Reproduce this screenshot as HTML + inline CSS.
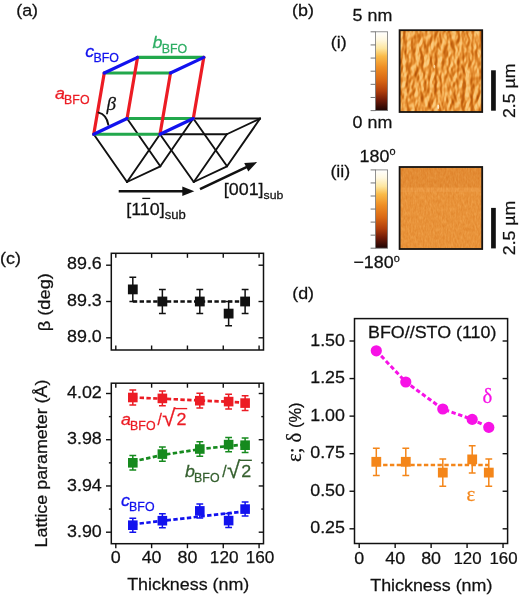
<!DOCTYPE html>
<html lang="en">
<head>
<meta charset="utf-8">
<title>Figure</title>
<style>
html,body{margin:0;padding:0;background:#fff;}
body{width:520px;height:595px;overflow:hidden;}
svg{display:block;}
text{font-family:"Liberation Sans",Arial,Helvetica,sans-serif;fill:#111;stroke-width:0.25px;}
.it{font-style:italic;}
.ser{font-family:"Liberation Serif","Times New Roman",serif;}
</style>
</head>
<body>

<svg width="520" height="595" viewBox="0 0 520 595" font-size="17.2">
<rect x="0" y="0" width="520" height="595" fill="#fff"/>
<g id="panel-a" stroke-linecap="round">
<line x1="93.75" y1="134.25" x2="127.00" y2="182.00" stroke="#111" stroke-width="1.9" />
<line x1="127.00" y1="182.00" x2="160.00" y2="134.25" stroke="#111" stroke-width="1.9" />
<line x1="160.00" y1="134.25" x2="193.75" y2="182.00" stroke="#111" stroke-width="1.9" />
<line x1="193.75" y1="182.00" x2="226.80" y2="134.25" stroke="#111" stroke-width="1.9" />
<line x1="127.05" y1="118.55" x2="160.30" y2="166.30" stroke="#111" stroke-width="1.9" />
<line x1="160.30" y1="166.30" x2="193.30" y2="118.55" stroke="#111" stroke-width="1.9" />
<line x1="193.30" y1="118.55" x2="227.05" y2="166.30" stroke="#111" stroke-width="1.9" />
<line x1="227.05" y1="166.30" x2="260.10" y2="118.55" stroke="#111" stroke-width="1.9" />
<line x1="127.00" y1="182.00" x2="160.30" y2="166.30" stroke="#111" stroke-width="1.9" />
<line x1="193.75" y1="182.00" x2="227.05" y2="166.30" stroke="#111" stroke-width="1.9" />
<line x1="160.00" y1="134.25" x2="226.80" y2="134.25" stroke="#111" stroke-width="1.9" />
<line x1="193.30" y1="118.55" x2="260.10" y2="118.55" stroke="#111" stroke-width="1.9" />
<line x1="226.80" y1="134.25" x2="260.10" y2="118.55" stroke="#111" stroke-width="1.9" />
<line x1="93.75" y1="134.25" x2="160.00" y2="134.25" stroke="#22a84c" stroke-width="3.1" />
<line x1="127.05" y1="118.55" x2="193.30" y2="118.55" stroke="#22a84c" stroke-width="3.1" />
<line x1="104.25" y1="73.05" x2="170.50" y2="73.05" stroke="#22a84c" stroke-width="3.1" />
<line x1="137.55" y1="57.35" x2="203.80" y2="57.35" stroke="#22a84c" stroke-width="3.1" />
<line x1="93.75" y1="134.25" x2="104.25" y2="73.05" stroke="#ec1c24" stroke-width="3.2" />
<line x1="160.00" y1="134.25" x2="170.50" y2="73.05" stroke="#ec1c24" stroke-width="3.2" />
<line x1="127.05" y1="118.55" x2="137.55" y2="57.35" stroke="#ec1c24" stroke-width="3.2" />
<line x1="193.30" y1="118.55" x2="203.80" y2="57.35" stroke="#ec1c24" stroke-width="3.2" />
<line x1="93.75" y1="134.25" x2="127.05" y2="118.55" stroke="#1212ee" stroke-width="3.2" />
<line x1="160.00" y1="134.25" x2="193.30" y2="118.55" stroke="#1212ee" stroke-width="3.2" />
<line x1="104.25" y1="73.05" x2="137.55" y2="57.35" stroke="#1212ee" stroke-width="3.2" />
<line x1="170.50" y1="73.05" x2="203.80" y2="57.35" stroke="#1212ee" stroke-width="3.2" />
<path d="M98.6,112.6 Q106.5,114.5 108.3,124.6" fill="none" stroke="#111" stroke-width="2"/>
</g>
<line x1="118.70" y1="191.20" x2="184.30" y2="191.20" stroke="#111" stroke-width="2.6"/>
<polygon points="194.30,191.20 182.30,195.90 182.30,186.50" fill="#111"/>
<line x1="200.00" y1="189.10" x2="248.06" y2="166.37" stroke="#111" stroke-width="2.6"/>
<polygon points="257.10,162.10 248.26,171.48 244.24,162.98" fill="#111"/>
<text transform="translate(16.20,16.40) scale(1.04,1)" style="fill:#111;stroke:#111">(a)</text>
<text transform="translate(106.40,109.70) scale(1.04,1)" font-size="18.4" class="ser it" style="fill:#111;stroke:#111">β</text>
<text transform="translate(85.30,57.00) scale(1.04,1)" style="fill:#1212ee;stroke:#1212ee"><tspan class="it">c</tspan><tspan font-size="11.9" dy="5.0" dx="-0.8">BFO</tspan></text>
<text transform="translate(152.60,47.80) scale(1.04,1)" style="fill:#2eae64;stroke:#2eae64"><tspan class="it">b</tspan><tspan font-size="11.9" dy="5.0" dx="-0.8">BFO</tspan></text>
<text transform="translate(55.00,99.40) scale(1.04,1)" style="fill:#ec1c24;stroke:#ec1c24"><tspan class="it">a</tspan><tspan font-size="11.9" dy="5.0" dx="-0.8">BFO</tspan></text>
<text transform="translate(126.20,214.60) scale(1.04,1)" style="fill:#111;stroke:#111">[110]<tspan font-size="12.6" dy="4.3">sub</tspan></text>
<line x1="142.3" y1="198.4" x2="150.2" y2="198.4" stroke="#111" stroke-width="1.3"/>
<text transform="translate(223.80,195.00) scale(1.04,1)" style="fill:#111;stroke:#111">[001]<tspan font-size="11.8" dy="4.4">sub</tspan></text>
<text transform="translate(292.00,16.30) scale(1.04,1)" style="fill:#111;stroke:#111">(b)</text>
<defs>
<linearGradient id="cb" x1="0" y1="0" x2="0" y2="1">
<stop offset="0" stop-color="#ffffff"/>
<stop offset="0.10" stop-color="#fff8e0"/>
<stop offset="0.21" stop-color="#fde6a0"/>
<stop offset="0.31" stop-color="#fabb4a"/>
<stop offset="0.45" stop-color="#ef8e24"/>
<stop offset="0.61" stop-color="#d96714"/>
<stop offset="0.75" stop-color="#b03e0c"/>
<stop offset="0.87" stop-color="#6e1a08"/>
<stop offset="1" stop-color="#1c0404"/>
</linearGradient>
<filter id="tex1" x="0" y="0" width="100%" height="100%" color-interpolation-filters="sRGB">
<feTurbulence type="fractalNoise" baseFrequency="0.22 0.10" numOctaves="2" seed="11" result="n"/>
<feColorMatrix in="n" type="matrix" values="0 0 0 0 0  0 0 0 0 0  0 0 0 0 0  1 0 0 0 0" result="h"/>
<feDiffuseLighting in="h" surfaceScale="2.5" diffuseConstant="1" lighting-color="#ffffff" result="lit">
<feDistantLight azimuth="200" elevation="52"/>
</feDiffuseLighting>
<feComponentTransfer in="lit">
<feFuncR type="table" tableValues="0.64 0.68 0.72 0.76 0.79 0.82 0.855 0.89 0.925 0.96 0.985"/>
<feFuncG type="table" tableValues="0.28 0.31 0.34 0.38 0.415 0.45 0.50 0.55 0.605 0.70 0.80"/>
<feFuncB type="table" tableValues="0.03 0.04 0.05 0.06 0.08 0.10 0.14 0.19 0.245 0.35 0.50"/>
</feComponentTransfer>
</filter>
<filter id="tex2" x="0" y="0" width="100%" height="100%" color-interpolation-filters="sRGB">
<feTurbulence type="fractalNoise" baseFrequency="0.6 0.25" numOctaves="2" seed="3" result="n"/>
<feColorMatrix in="n" type="matrix" values="1 0 0 0 0  1 0 0 0 0  1 0 0 0 0  0 0 0 0 1" result="g"/>
<feComponentTransfer in="g">
<feFuncR type="table" tableValues="0.875 0.913 0.95"/>
<feFuncG type="table" tableValues="0.51 0.578 0.65"/>
<feFuncB type="table" tableValues="0.16 0.228 0.31"/>
</feComponentTransfer>
</filter>
</defs>
<text transform="translate(352.60,21.30) scale(1.04,1)" style="fill:#111;stroke:#111">5 nm</text>
<text transform="translate(352.60,127.50) scale(1.04,1)" style="fill:#111;stroke:#111">0 nm</text>
<text transform="translate(330.80,48.20) scale(1.04,1)" style="fill:#111;stroke:#111">(i)</text>
<rect x="375.5" y="31.8" width="12.10" height="78.80" fill="url(#cb)" stroke="#777" stroke-width="0.8"/>
<line x1="370.60" y1="31.80" x2="375.50" y2="31.80" stroke="#666" stroke-width="0.9"/>
<line x1="370.60" y1="44.93" x2="375.50" y2="44.93" stroke="#666" stroke-width="0.9"/>
<line x1="370.60" y1="58.07" x2="375.50" y2="58.07" stroke="#666" stroke-width="0.9"/>
<line x1="370.60" y1="71.20" x2="375.50" y2="71.20" stroke="#666" stroke-width="0.9"/>
<line x1="370.60" y1="84.33" x2="375.50" y2="84.33" stroke="#666" stroke-width="0.9"/>
<line x1="370.60" y1="97.47" x2="375.50" y2="97.47" stroke="#666" stroke-width="0.9"/>
<line x1="370.60" y1="110.60" x2="375.50" y2="110.60" stroke="#666" stroke-width="0.9"/>
<rect x="399.6" y="30.2" width="82.6" height="81.8" fill="#e58a2c" filter="url(#tex1)"/>
<ellipse cx="434.4" cy="66.6" rx="0.9" ry="1.8" fill="#ffe9b8" opacity="0.8"/>
<ellipse cx="438.2" cy="106.8" rx="1.0" ry="2.2" fill="#fff6da" opacity="0.9"/>
<rect x="399.6" y="30.2" width="82.6" height="81.8" fill="none" stroke="#161210" stroke-width="1.8"/>
<rect x="491.1" y="70.3" width="4.7" height="40.4" fill="#111"/>
<text transform="translate(515.00,118.00) rotate(-90) scale(1.03,1)" style="fill:#111;stroke:#111">2.5 µm</text>
<text transform="translate(359.60,161.80) scale(1.04,1)" style="fill:#111;stroke:#111">180<tspan font-size="10.5" dy="-6.6">o</tspan></text>
<text transform="translate(353.40,268.20) scale(1.04,1)" style="fill:#111;stroke:#111">−180<tspan font-size="10.5" dy="-6.6">o</tspan></text>
<text transform="translate(330.40,177.30) scale(1.04,1)" style="fill:#111;stroke:#111">(ii)</text>
<rect x="375.5" y="169.9" width="12.10" height="78.30" fill="url(#cb)" stroke="#777" stroke-width="0.8"/>
<line x1="370.60" y1="169.90" x2="375.50" y2="169.90" stroke="#666" stroke-width="0.9"/>
<line x1="370.60" y1="182.95" x2="375.50" y2="182.95" stroke="#666" stroke-width="0.9"/>
<line x1="370.60" y1="196.00" x2="375.50" y2="196.00" stroke="#666" stroke-width="0.9"/>
<line x1="370.60" y1="209.05" x2="375.50" y2="209.05" stroke="#666" stroke-width="0.9"/>
<line x1="370.60" y1="222.10" x2="375.50" y2="222.10" stroke="#666" stroke-width="0.9"/>
<line x1="370.60" y1="235.15" x2="375.50" y2="235.15" stroke="#666" stroke-width="0.9"/>
<line x1="370.60" y1="248.20" x2="375.50" y2="248.20" stroke="#666" stroke-width="0.9"/>
<rect x="399.6" y="167.0" width="82.6" height="82.0" fill="#e2852c" filter="url(#tex2)"/>
<rect x="399.6" y="187.5" width="82.6" height="4.5" fill="#f8b468" opacity="0.16"/>
<rect x="399.6" y="167.0" width="82.6" height="20.5" fill="#c0600c" opacity="0.13"/>
<rect x="399.6" y="167.0" width="82.6" height="82.0" fill="none" stroke="#161210" stroke-width="1.8"/>
<rect x="491.1" y="207.9" width="4.7" height="40.5" fill="#111"/>
<text transform="translate(515.00,255.20) rotate(-90) scale(1.03,1)" style="fill:#111;stroke:#111">2.5 µm</text>
<text transform="translate(0.00,263.90) scale(1.04,1)" style="fill:#111;stroke:#111">(c)</text>
<rect x="111.3" y="253.3" width="152.20" height="96.70" fill="none" stroke="#111" stroke-width="1.5"/>
<line x1="115.80" y1="253.30" x2="115.80" y2="257.80" stroke="#111" stroke-width="1.4"/>
<line x1="115.80" y1="350.00" x2="115.80" y2="345.50" stroke="#111" stroke-width="1.4"/>
<line x1="151.62" y1="253.30" x2="151.62" y2="257.80" stroke="#111" stroke-width="1.4"/>
<line x1="151.62" y1="350.00" x2="151.62" y2="345.50" stroke="#111" stroke-width="1.4"/>
<line x1="187.44" y1="253.30" x2="187.44" y2="257.80" stroke="#111" stroke-width="1.4"/>
<line x1="187.44" y1="350.00" x2="187.44" y2="345.50" stroke="#111" stroke-width="1.4"/>
<line x1="223.26" y1="253.30" x2="223.26" y2="257.80" stroke="#111" stroke-width="1.4"/>
<line x1="223.26" y1="350.00" x2="223.26" y2="345.50" stroke="#111" stroke-width="1.4"/>
<line x1="259.08" y1="253.30" x2="259.08" y2="257.80" stroke="#111" stroke-width="1.4"/>
<line x1="259.08" y1="350.00" x2="259.08" y2="345.50" stroke="#111" stroke-width="1.4"/>
<line x1="106.10" y1="265.20" x2="111.30" y2="265.20" stroke="#111" stroke-width="1.4"/>
<line x1="258.50" y1="265.20" x2="263.50" y2="265.20" stroke="#111" stroke-width="1.4"/>
<text transform="translate(101.80,269.30) scale(1.04,1)" text-anchor="end" style="fill:#111;stroke:#111">89.6</text>
<line x1="106.10" y1="301.50" x2="111.30" y2="301.50" stroke="#111" stroke-width="1.4"/>
<line x1="258.50" y1="301.50" x2="263.50" y2="301.50" stroke="#111" stroke-width="1.4"/>
<text transform="translate(101.80,305.60) scale(1.04,1)" text-anchor="end" style="fill:#111;stroke:#111">89.3</text>
<line x1="106.10" y1="337.80" x2="111.30" y2="337.80" stroke="#111" stroke-width="1.4"/>
<line x1="258.50" y1="337.80" x2="263.50" y2="337.80" stroke="#111" stroke-width="1.4"/>
<text transform="translate(101.80,341.90) scale(1.04,1)" text-anchor="end" style="fill:#111;stroke:#111">89.0</text>
<path d="M132.81,301.50 L245.11,301.50" fill="none" stroke="#111" stroke-width="2.7" stroke-dasharray="4.4 2.4"/>
<path d="M132.81,277.30V301.50M129.41,277.30h6.8M129.41,301.50h6.8" stroke="#111" stroke-width="1.5" fill="none"/>
<rect x="127.91" y="284.50" width="9.8" height="9.8" fill="#111"/>
<path d="M162.37,289.40V313.60M158.97,289.40h6.8M158.97,313.60h6.8" stroke="#111" stroke-width="1.5" fill="none"/>
<rect x="157.47" y="296.60" width="9.8" height="9.8" fill="#111"/>
<path d="M199.80,289.40V313.60M196.40,289.40h6.8M196.40,313.60h6.8" stroke="#111" stroke-width="1.5" fill="none"/>
<rect x="194.90" y="296.60" width="9.8" height="9.8" fill="#111"/>
<path d="M228.63,301.50V325.70M225.23,301.50h6.8M225.23,325.70h6.8" stroke="#111" stroke-width="1.5" fill="none"/>
<rect x="223.73" y="308.70" width="9.8" height="9.8" fill="#111"/>
<path d="M245.11,289.40V313.60M241.71,289.40h6.8M241.71,313.60h6.8" stroke="#111" stroke-width="1.5" fill="none"/>
<rect x="240.21" y="296.60" width="9.8" height="9.8" fill="#111"/>
<text transform="translate(49.70,302.20) rotate(-90) scale(1.06,1)" text-anchor="middle" style="fill:#111;stroke:#111">β (deg)</text>
<rect x="111.3" y="383.2" width="152.20" height="160.50" fill="none" stroke="#111" stroke-width="1.5"/>
<line x1="115.80" y1="383.20" x2="115.80" y2="387.70" stroke="#111" stroke-width="1.4"/>
<line x1="115.80" y1="543.70" x2="115.80" y2="548.20" stroke="#111" stroke-width="1.4"/>
<text transform="translate(115.80,562.60) scale(1.04,1)" text-anchor="middle" style="fill:#111;stroke:#111">0</text>
<line x1="151.62" y1="383.20" x2="151.62" y2="387.70" stroke="#111" stroke-width="1.4"/>
<line x1="151.62" y1="543.70" x2="151.62" y2="548.20" stroke="#111" stroke-width="1.4"/>
<text transform="translate(151.62,562.60) scale(1.04,1)" text-anchor="middle" style="fill:#111;stroke:#111">40</text>
<line x1="187.44" y1="383.20" x2="187.44" y2="387.70" stroke="#111" stroke-width="1.4"/>
<line x1="187.44" y1="543.70" x2="187.44" y2="548.20" stroke="#111" stroke-width="1.4"/>
<text transform="translate(187.44,562.60) scale(1.04,1)" text-anchor="middle" style="fill:#111;stroke:#111">80</text>
<line x1="223.26" y1="383.20" x2="223.26" y2="387.70" stroke="#111" stroke-width="1.4"/>
<line x1="223.26" y1="543.70" x2="223.26" y2="548.20" stroke="#111" stroke-width="1.4"/>
<text transform="translate(224.16,562.60) scale(1.0,1)" text-anchor="middle" style="fill:#111;stroke:#111">120</text>
<line x1="259.08" y1="383.20" x2="259.08" y2="387.70" stroke="#111" stroke-width="1.4"/>
<line x1="259.08" y1="543.70" x2="259.08" y2="548.20" stroke="#111" stroke-width="1.4"/>
<text transform="translate(259.98,562.60) scale(1.0,1)" text-anchor="middle" style="fill:#111;stroke:#111">160</text>
<line x1="106.00" y1="393.50" x2="111.30" y2="393.50" stroke="#111" stroke-width="1.4"/>
<line x1="258.70" y1="393.50" x2="263.50" y2="393.50" stroke="#111" stroke-width="1.4"/>
<text transform="translate(101.80,398.10) scale(1.04,1)" text-anchor="end" style="fill:#111;stroke:#111">4.02</text>
<line x1="108.90" y1="416.62" x2="111.30" y2="416.62" stroke="#111" stroke-width="1.4"/>
<line x1="261.30" y1="416.62" x2="263.50" y2="416.62" stroke="#111" stroke-width="1.4"/>
<line x1="106.00" y1="439.73" x2="111.30" y2="439.73" stroke="#111" stroke-width="1.4"/>
<line x1="258.70" y1="439.73" x2="263.50" y2="439.73" stroke="#111" stroke-width="1.4"/>
<text transform="translate(101.80,444.33) scale(1.04,1)" text-anchor="end" style="fill:#111;stroke:#111">3.98</text>
<line x1="108.90" y1="462.85" x2="111.30" y2="462.85" stroke="#111" stroke-width="1.4"/>
<line x1="261.30" y1="462.85" x2="263.50" y2="462.85" stroke="#111" stroke-width="1.4"/>
<line x1="106.00" y1="485.97" x2="111.30" y2="485.97" stroke="#111" stroke-width="1.4"/>
<line x1="258.70" y1="485.97" x2="263.50" y2="485.97" stroke="#111" stroke-width="1.4"/>
<text transform="translate(101.80,490.57) scale(1.04,1)" text-anchor="end" style="fill:#111;stroke:#111">3.94</text>
<line x1="108.90" y1="509.08" x2="111.30" y2="509.08" stroke="#111" stroke-width="1.4"/>
<line x1="261.30" y1="509.08" x2="263.50" y2="509.08" stroke="#111" stroke-width="1.4"/>
<line x1="106.00" y1="532.20" x2="111.30" y2="532.20" stroke="#111" stroke-width="1.4"/>
<line x1="258.70" y1="532.20" x2="263.50" y2="532.20" stroke="#111" stroke-width="1.4"/>
<text transform="translate(101.80,536.80) scale(1.04,1)" text-anchor="end" style="fill:#111;stroke:#111">3.90</text>
<text transform="translate(188.20,589.60) scale(1.04,1)" text-anchor="middle" style="fill:#111;stroke:#111">Thickness (nm)</text>
<text transform="translate(47.20,463.50) rotate(-90) scale(1.04,1)" text-anchor="middle" style="fill:#111;stroke:#111">Lattice parameter (Å)</text>
<path d="M132.81,397.50 L162.37,398.70 L199.80,400.50 L228.63,401.80 L245.11,402.60" fill="none" stroke="#ec1c24" stroke-width="2.7" stroke-dasharray="4.4 2.4"/>
<path d="M132.81,461.50 L162.37,455.00 L199.80,449.20 L228.63,446.00 L245.11,444.60" fill="none" stroke="#168a1e" stroke-width="2.7" stroke-dasharray="4.4 2.4"/>
<path d="M132.81,524.30 L245.11,511.30" fill="none" stroke="#1212ee" stroke-width="2.7" stroke-dasharray="4.4 2.4"/>
<path d="M132.81,390.10V404.90M129.41,390.10h6.8M129.41,404.90h6.8" stroke="#ec1c24" stroke-width="1.5" fill="none"/>
<rect x="128.01" y="392.70" width="9.6" height="9.6" fill="#ec1c24"/>
<path d="M162.37,391.00V405.80M158.97,391.00h6.8M158.97,405.80h6.8" stroke="#ec1c24" stroke-width="1.5" fill="none"/>
<rect x="157.57" y="393.60" width="9.6" height="9.6" fill="#ec1c24"/>
<path d="M199.80,393.30V408.10M196.40,393.30h6.8M196.40,408.10h6.8" stroke="#ec1c24" stroke-width="1.5" fill="none"/>
<rect x="195.00" y="395.90" width="9.6" height="9.6" fill="#ec1c24"/>
<path d="M228.63,394.20V409.00M225.23,394.20h6.8M225.23,409.00h6.8" stroke="#ec1c24" stroke-width="1.5" fill="none"/>
<rect x="223.83" y="396.80" width="9.6" height="9.6" fill="#ec1c24"/>
<path d="M245.11,395.70V410.50M241.71,395.70h6.8M241.71,410.50h6.8" stroke="#ec1c24" stroke-width="1.5" fill="none"/>
<rect x="240.31" y="398.30" width="9.6" height="9.6" fill="#ec1c24"/>
<path d="M132.81,455.60V470.00M129.41,455.60h6.8M129.41,470.00h6.8" stroke="#168a1e" stroke-width="1.5" fill="none"/>
<rect x="128.01" y="458.00" width="9.6" height="9.6" fill="#168a1e"/>
<path d="M162.37,446.90V461.30M158.97,446.90h6.8M158.97,461.30h6.8" stroke="#168a1e" stroke-width="1.5" fill="none"/>
<rect x="157.57" y="449.30" width="9.6" height="9.6" fill="#168a1e"/>
<path d="M199.80,441.80V456.20M196.40,441.80h6.8M196.40,456.20h6.8" stroke="#168a1e" stroke-width="1.5" fill="none"/>
<rect x="195.00" y="444.20" width="9.6" height="9.6" fill="#168a1e"/>
<path d="M228.63,437.40V451.80M225.23,437.40h6.8M225.23,451.80h6.8" stroke="#168a1e" stroke-width="1.5" fill="none"/>
<rect x="223.83" y="439.80" width="9.6" height="9.6" fill="#168a1e"/>
<path d="M245.11,438.00V452.40M241.71,438.00h6.8M241.71,452.40h6.8" stroke="#168a1e" stroke-width="1.5" fill="none"/>
<rect x="240.31" y="440.40" width="9.6" height="9.6" fill="#168a1e"/>
<path d="M132.81,518.20V532.20M129.41,518.20h6.8M129.41,532.20h6.8" stroke="#1212ee" stroke-width="1.5" fill="none"/>
<rect x="128.01" y="520.40" width="9.6" height="9.6" fill="#1212ee"/>
<path d="M162.37,513.70V527.70M158.97,513.70h6.8M158.97,527.70h6.8" stroke="#1212ee" stroke-width="1.5" fill="none"/>
<rect x="157.57" y="515.90" width="9.6" height="9.6" fill="#1212ee"/>
<path d="M199.80,503.90V517.90M196.40,503.90h6.8M196.40,517.90h6.8" stroke="#1212ee" stroke-width="1.5" fill="none"/>
<rect x="195.00" y="506.10" width="9.6" height="9.6" fill="#1212ee"/>
<path d="M228.63,513.60V527.60M225.23,513.60h6.8M225.23,527.60h6.8" stroke="#1212ee" stroke-width="1.5" fill="none"/>
<rect x="223.83" y="515.80" width="9.6" height="9.6" fill="#1212ee"/>
<path d="M245.11,502.10V516.10M241.71,502.10h6.8M241.71,516.10h6.8" stroke="#1212ee" stroke-width="1.5" fill="none"/>
<rect x="240.31" y="504.30" width="9.6" height="9.6" fill="#1212ee"/>
<text transform="translate(121.00,425.20) scale(1.04,1)" style="fill:#ec1c24;stroke:#ec1c24"><tspan class="it">a</tspan><tspan font-size="11.9" dy="5.0" dx="-0.8">BFO</tspan></text>
<text transform="translate(157.60,425.20) scale(0.92,1)" style="fill:#ec1c24;stroke:#ec1c24">/</text>
<text transform="translate(162.30,426.40) scale(1.02,1)" font-size="23.6" style="fill:#ec1c24;stroke:#ec1c24">√</text>
<line x1="174.50" y1="408.60" x2="187.20" y2="408.60" stroke="#ec1c24" stroke-width="1.35"/>
<text transform="translate(176.50,425.20) scale(1.04,1)" style="fill:#ec1c24;stroke:#ec1c24">2</text>
<text transform="translate(185.00,476.90) scale(1.04,1)" style="fill:#35602f;stroke:#35602f"><tspan class="it">b</tspan><tspan font-size="11.9" dy="5.0" dx="-0.8">BFO</tspan></text>
<text transform="translate(222.30,476.90) scale(0.92,1)" style="fill:#35602f;stroke:#35602f">/</text>
<text transform="translate(227.00,478.10) scale(1.02,1)" font-size="23.6" style="fill:#35602f;stroke:#35602f">√</text>
<line x1="239.20" y1="460.30" x2="251.90" y2="460.30" stroke="#35602f" stroke-width="1.35"/>
<text transform="translate(241.20,476.90) scale(1.04,1)" style="fill:#35602f;stroke:#35602f">2</text>
<text transform="translate(121.00,505.60) scale(1.04,1)" style="fill:#1212ee;stroke:#1212ee"><tspan class="it">c</tspan><tspan font-size="11.9" dy="5.0" dx="-0.8">BFO</tspan></text>
<text transform="translate(292.20,299.20) scale(1.04,1)" style="fill:#111;stroke:#111">(d)</text>
<rect x="354.5" y="318.6" width="153.10" height="224.90" fill="none" stroke="#111" stroke-width="1.5"/>
<line x1="359.20" y1="543.50" x2="359.20" y2="548.00" stroke="#111" stroke-width="1.4"/>
<text transform="translate(359.20,563.60) scale(1.04,1)" text-anchor="middle" style="fill:#111;stroke:#111">0</text>
<line x1="395.16" y1="543.50" x2="395.16" y2="548.00" stroke="#111" stroke-width="1.4"/>
<text transform="translate(395.16,563.60) scale(1.04,1)" text-anchor="middle" style="fill:#111;stroke:#111">40</text>
<line x1="431.12" y1="543.50" x2="431.12" y2="548.00" stroke="#111" stroke-width="1.4"/>
<text transform="translate(431.12,563.60) scale(1.04,1)" text-anchor="middle" style="fill:#111;stroke:#111">80</text>
<line x1="467.08" y1="543.50" x2="467.08" y2="548.00" stroke="#111" stroke-width="1.4"/>
<text transform="translate(467.48,563.60) scale(0.98,1)" text-anchor="middle" style="fill:#111;stroke:#111">120</text>
<line x1="503.04" y1="543.50" x2="503.04" y2="548.00" stroke="#111" stroke-width="1.4"/>
<text transform="translate(503.44,563.60) scale(0.98,1)" text-anchor="middle" style="fill:#111;stroke:#111">160</text>
<line x1="349.50" y1="341.00" x2="354.50" y2="341.00" stroke="#111" stroke-width="1.4"/>
<line x1="502.60" y1="341.00" x2="507.60" y2="341.00" stroke="#111" stroke-width="1.4"/>
<text transform="translate(345.00,345.50) scale(1.04,1)" text-anchor="end" style="fill:#111;stroke:#111">1.50</text>
<line x1="349.50" y1="378.56" x2="354.50" y2="378.56" stroke="#111" stroke-width="1.4"/>
<line x1="502.60" y1="378.56" x2="507.60" y2="378.56" stroke="#111" stroke-width="1.4"/>
<text transform="translate(345.00,383.06) scale(1.04,1)" text-anchor="end" style="fill:#111;stroke:#111">1.25</text>
<line x1="349.50" y1="416.12" x2="354.50" y2="416.12" stroke="#111" stroke-width="1.4"/>
<line x1="502.60" y1="416.12" x2="507.60" y2="416.12" stroke="#111" stroke-width="1.4"/>
<text transform="translate(345.00,420.62) scale(1.04,1)" text-anchor="end" style="fill:#111;stroke:#111">1.00</text>
<line x1="349.50" y1="453.68" x2="354.50" y2="453.68" stroke="#111" stroke-width="1.4"/>
<line x1="502.60" y1="453.68" x2="507.60" y2="453.68" stroke="#111" stroke-width="1.4"/>
<text transform="translate(345.00,458.18) scale(1.04,1)" text-anchor="end" style="fill:#111;stroke:#111">0.75</text>
<line x1="349.50" y1="491.24" x2="354.50" y2="491.24" stroke="#111" stroke-width="1.4"/>
<line x1="502.60" y1="491.24" x2="507.60" y2="491.24" stroke="#111" stroke-width="1.4"/>
<text transform="translate(345.00,495.74) scale(1.04,1)" text-anchor="end" style="fill:#111;stroke:#111">0.50</text>
<line x1="349.50" y1="528.80" x2="354.50" y2="528.80" stroke="#111" stroke-width="1.4"/>
<line x1="502.60" y1="528.80" x2="507.60" y2="528.80" stroke="#111" stroke-width="1.4"/>
<text transform="translate(345.00,533.30) scale(1.04,1)" text-anchor="end" style="fill:#111;stroke:#111">0.25</text>
<text transform="translate(431.30,590.80) scale(1.04,1)" text-anchor="middle" style="fill:#111;stroke:#111">Thickness (nm)</text>
<text transform="translate(368.00,338.00) scale(1.04,1)" style="fill:#111;stroke:#111">BFO//STO (110)</text>
<text transform="translate(300.60,432.20) rotate(-90) scale(0.96,1)" text-anchor="middle" style="fill:#111;stroke:#111"><tspan class="ser" font-size="21.5">ε; δ</tspan> (%)</text>
<path d="M376.30,350.80 L405.80,382.00 L442.80,409.00 L472.20,419.40 L488.80,427.40" fill="none" stroke="#f712e6" stroke-width="3.0" stroke-dasharray="4.4 2.6"/>
<circle cx="376.3" cy="350.8" r="5.6" fill="#f712e6"/>
<circle cx="405.8" cy="382.0" r="5.6" fill="#f712e6"/>
<circle cx="442.8" cy="409.0" r="5.6" fill="#f712e6"/>
<circle cx="472.2" cy="419.4" r="5.6" fill="#f712e6"/>
<circle cx="488.8" cy="427.4" r="5.6" fill="#f712e6"/>
<path d="M376.30,465.00 L488.80,465.00" fill="none" stroke="#f4861a" stroke-width="2.7" stroke-dasharray="4.4 2.4"/>
<path d="M376.30,448.20V475.40M372.90,448.20h6.8M372.90,475.40h6.8" stroke="#f4861a" stroke-width="1.5" fill="none"/>
<rect x="371.40" y="456.90" width="9.8" height="9.8" fill="#f4861a"/>
<path d="M405.80,448.20V475.40M402.40,448.20h6.8M402.40,475.40h6.8" stroke="#f4861a" stroke-width="1.5" fill="none"/>
<rect x="400.90" y="456.90" width="9.8" height="9.8" fill="#f4861a"/>
<path d="M442.80,459.00V486.20M439.40,459.00h6.8M439.40,486.20h6.8" stroke="#f4861a" stroke-width="1.5" fill="none"/>
<rect x="437.90" y="467.70" width="9.8" height="9.8" fill="#f4861a"/>
<path d="M472.20,445.80V473.00M468.80,445.80h6.8M468.80,473.00h6.8" stroke="#f4861a" stroke-width="1.5" fill="none"/>
<rect x="467.30" y="454.50" width="9.8" height="9.8" fill="#f4861a"/>
<path d="M488.80,459.00V486.20M485.40,459.00h6.8M485.40,486.20h6.8" stroke="#f4861a" stroke-width="1.5" fill="none"/>
<rect x="483.90" y="467.70" width="9.8" height="9.8" fill="#f4861a"/>
<text transform="translate(482.50,403.00) scale(1.04,1)" font-size="20" class="ser" style="fill:#f712e6;stroke:#f712e6">δ</text>
<text transform="translate(466.50,500.50) scale(1.04,1)" font-size="20" class="ser" style="fill:#f4861a;stroke:#f4861a">ε</text>
</svg>
</body>
</html>
